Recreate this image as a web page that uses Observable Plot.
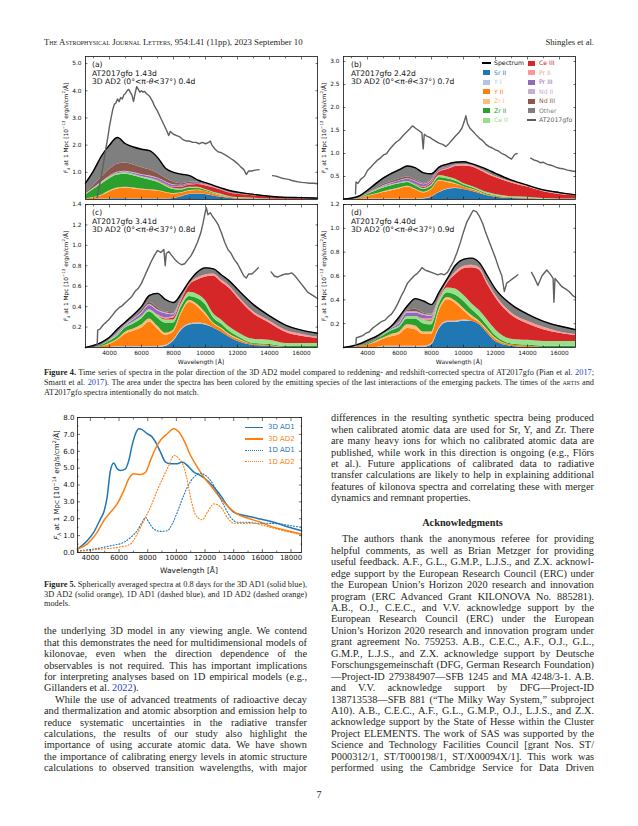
<!DOCTYPE html>
<html><head><meta charset="utf-8">
<script src="https://cdn.jsdelivr.net/npm/d3@7"></script>
<script src="https://cdn.jsdelivr.net/npm/@observablehq/plot@0.6"></script>
<style>
html,body{margin:0;padding:0;background:#fff;}
#page{position:relative;width:638px;height:826px;overflow:hidden;background:#fff;}
.abs{position:absolute;}
.serif{font-family:"Liberation Serif","Times New Roman",serif;color:#231f20;}
.sans{font-family:"DejaVu Sans",sans-serif;}
.line{position:absolute;white-space:nowrap;text-align:justify;text-align-last:justify;}
.last{text-align-last:left;}
.lk{color:#2a45c8;}
.ann{font-size:7.6px;line-height:8.6px;color:#111;white-space:nowrap;}
.rot{position:absolute;white-space:nowrap;transform:translate(-50%,-50%) rotate(-90deg);color:#111;}
.ctr{position:absolute;white-space:nowrap;transform:translate(-50%,-50%);color:#111;}
.leg{position:absolute;font-size:6.2px;line-height:6px;white-space:nowrap;}
sub,sup{font-size:70%;line-height:0;}
</style></head><body><div id="page"></div>
<script>
// ---------- Figure 4 data ----------
const wl = [2500,3000,3500,4000,4500,5000,5500,6000,6500,7000,7500,8000,8500,9000,9500,10000,10500,11000,11500,12000,13000,14000,15000,16000,17000];
const species = ["Sr II","Y I","Y II","Zr I","Zr II","Ce II","Ce III","Pr II","Pr III","Nd II","Nd III","Other"];
const speciesColors = ["#1f77b4","#aec7e8","#ff7f0e","#ffbb78","#2ca02c","#98df8a","#d62728","#ff9896","#9467bd","#c5b0d5","#8c564b","#7f7f7f"];

// panel (a)
const srII_a  = [0,0,0.01,0.02,0.03,0.03,0.02,0.02,0.02,0.02,0.02,0.04,0.1,0.18,0.2,0.18,0.13,0.08,0.04,0.02,0.01,0,0,0,0];
const yI_a    = [0,0.01,0.01,0.01,0.01,0.01,0.01,0.01,0.01,0.01,0.01,0.01,0.01,0.01,0.01,0.01,0,0,0,0,0,0,0,0,0];
const yII_a   = [0.02,0.05,0.12,0.25,0.35,0.38,0.36,0.33,0.3,0.28,0.22,0.15,0.12,0.12,0.12,0.1,0.07,0.05,0.03,0.02,0.01,0.01,0,0,0];
const zrI_a   = [0,0.01,0.02,0.03,0.03,0.03,0.03,0.03,0.03,0.02,0.02,0.02,0.02,0.02,0.02,0.01,0.01,0.01,0,0,0,0,0,0,0];
const zrII_a  = [0.15,0.3,0.4,0.45,0.48,0.48,0.45,0.4,0.36,0.3,0.22,0.15,0.1,0.08,0.06,0.04,0.03,0.02,0.02,0.01,0.01,0,0,0,0];
const ceII_a  = [0.02,0.03,0.04,0.05,0.05,0.05,0.05,0.05,0.05,0.05,0.04,0.04,0.04,0.04,0.04,0.03,0.03,0.03,0.02,0.02,0.02,0.01,0.01,0.01,0.01];
const ceIII_a = [0,0,0,0,0,0,0,0,0,0.01,0.02,0.04,0.06,0.08,0.1,0.14,0.16,0.15,0.13,0.12,0.09,0.07,0.05,0.04,0.03];
const prII_a  = [0,0,0,0,0,0,0,0,0.01,0.01,0.01,0.01,0.01,0.01,0.01,0.01,0.01,0.01,0.01,0.01,0.01,0,0,0,0];
const prIII_a = [0,0,0.01,0.02,0.03,0.04,0.05,0.06,0.07,0.07,0.07,0.06,0.05,0.04,0.03,0.02,0.01,0.01,0,0,0,0,0,0,0];
const ndII_a  = [0.01,0.01,0.02,0.02,0.02,0.02,0.02,0.02,0.02,0.02,0.02,0.02,0.01,0.01,0.01,0.01,0.01,0,0,0,0,0,0,0,0];
const ndIII_a = [0.05,0.1,0.18,0.25,0.3,0.3,0.28,0.26,0.22,0.18,0.14,0.1,0.06,0.04,0.03,0.02,0.02,0.01,0.01,0,0,0,0,0,0];
const other_a = [0.35,0.54,0.79,0.90,0.98,0.71,0.66,0.67,0.71,0.58,0.36,0.36,0.35,0.25,0.09,0.05,0.04,0.05,0.07,0.07,0.04,0.03,0.02,0.02,0.01];

// panel (b)
const srII_b  = [0,0,0,0,0,0,0,0,0,0,0.01,0.05,0.15,0.22,0.24,0.22,0.18,0.13,0.08,0.05,0.02,0.01,0,0,0];
const yI_b    = [0,0,0,0.01,0.01,0.01,0.01,0.01,0.01,0.01,0.01,0.01,0.01,0.01,0.01,0,0,0,0,0,0,0,0,0,0];
const yII_b   = [0,0,0.02,0.06,0.1,0.14,0.18,0.22,0.26,0.2,0.12,0.15,0.24,0.14,0.08,0.05,0.04,0.03,0.02,0.02,0.01,0.01,0,0,0];
const zrI_b   = [0,0,0,0.01,0.01,0.02,0.02,0.02,0.02,0.02,0.02,0.02,0.02,0.02,0.02,0.01,0.01,0.01,0,0,0,0,0,0,0];
const zrII_b  = [0,0,0.01,0.03,0.06,0.08,0.09,0.09,0.08,0.07,0.06,0.06,0.06,0.06,0.05,0.04,0.03,0.02,0.02,0.01,0.01,0.01,0,0,0];
const ceII_b  = [0,0,0,0.01,0.01,0.02,0.02,0.02,0.02,0.02,0.02,0.03,0.04,0.04,0.04,0.03,0.03,0.03,0.03,0.03,0.02,0.02,0.02,0.01,0.01];
const ceIII_b = [0,0,0,0,0,0,0,0,0,0.01,0.02,0.04,0.08,0.16,0.28,0.38,0.42,0.42,0.4,0.37,0.3,0.22,0.15,0.1,0.07];
const prII_b  = [0,0,0,0,0,0,0,0,0,0,0.01,0.01,0.01,0.02,0.02,0.03,0.03,0.03,0.03,0.02,0.02,0.02,0.01,0.01,0.01];
const prIII_b = [0,0,0,0,0.01,0.02,0.03,0.04,0.05,0.06,0.05,0.04,0.03,0.02,0.01,0,0,0,0,0,0,0,0,0,0];
const ndII_b  = [0,0,0,0,0.01,0.01,0.01,0.01,0.01,0.01,0.01,0.01,0,0,0,0,0,0,0,0,0,0,0,0,0];
const ndIII_b = [0,0,0,0.01,0.02,0.03,0.03,0.04,0.04,0.03,0.02,0.02,0.01,0.01,0,0,0,0,0,0,0,0,0,0,0];
const other_b = [0.01,0.03,0.05,0.07,0.11,0.14,0.18,0.20,0.24,0.26,0.23,0.12,0.06,0.07,0.06,0.06,0.04,0.05,0.07,0.07,0.04,0.02,0.03,0.03,0.01];

// panel (c)
const srII_c  = [0,0,0,0,0,0,0,0,0,0,0.01,0.06,0.17,0.22,0.23,0.22,0.19,0.15,0.1,0.06,0.02,0.01,0,0,0];
const yI_c    = [0,0,0,0,0.01,0.01,0.01,0.01,0.01,0.01,0.01,0.01,0.01,0.01,0.01,0.01,0,0,0,0,0,0,0,0,0];
const yII_c   = [0,0,0.01,0.03,0.06,0.12,0.15,0.18,0.24,0.17,0.1,0.08,0.15,0.21,0.16,0.09,0.04,0.03,0.02,0.02,0.01,0.01,0,0,0];
const zrI_c   = [0,0,0,0.01,0.01,0.02,0.02,0.03,0.03,0.03,0.02,0.02,0.02,0.02,0.02,0.02,0.01,0.01,0.01,0.01,0,0,0,0,0];
const zrII_c  = [0,0,0.01,0.02,0.03,0.04,0.05,0.06,0.07,0.08,0.1,0.07,0.05,0.04,0.06,0.08,0.05,0.04,0.03,0.02,0.01,0.01,0.01,0.01,0.01];
const ceII_c  = [0,0,0,0.01,0.01,0.01,0.02,0.02,0.02,0.02,0.03,0.03,0.03,0.04,0.04,0.04,0.04,0.04,0.04,0.04,0.04,0.04,0.03,0.03,0.03];
const ceIII_c = [0,0,0,0,0,0,0,0,0,0,0.01,0.02,0.03,0.07,0.14,0.23,0.37,0.37,0.38,0.34,0.25,0.17,0.11,0.07,0.05];
const prII_c  = [0,0,0,0,0,0,0,0,0,0.01,0.01,0.01,0.01,0.01,0.02,0.02,0.02,0.02,0.02,0.02,0.02,0.02,0.02,0.02,0.01];
const prIII_c = [0,0,0,0,0.01,0.01,0.02,0.03,0.04,0.04,0.04,0.02,0.01,0,0,0,0,0,0,0,0,0,0,0,0];
const ndII_c  = [0,0,0,0,0.01,0.01,0.01,0.01,0.01,0.01,0.01,0.01,0,0,0,0,0,0,0,0,0,0,0,0,0];
const ndIII_c = [0,0,0,0,0,0,0.01,0.02,0.02,0.02,0.01,0.01,0,0,0,0,0,0,0,0,0,0,0,0,0];
const other_c = [0,0.02,0.03,0.03,0.04,0.03,0.03,0.04,0.07,0.14,0.12,0.10,0.05,0.03,0.06,0.07,0.05,0.05,0.05,0.06,0.07,0.05,0.05,0.04,0.04];

// panel (d)
const srII_d  = [0,0,0,0,0,0,0,0,0,0,0,0.02,0.16,0.21,0.21,0.22,0.22,0.19,0.12,0.05,0.01,0,0,0,0];
const yI_d    = [0,0,0,0,0,0.01,0.01,0.01,0.01,0.01,0.01,0.01,0.01,0.01,0.01,0.01,0,0,0,0,0,0,0,0,0];
const yII_d   = [0,0,0.01,0.02,0.04,0.06,0.08,0.1,0.15,0.14,0.1,0.08,0.14,0.18,0.15,0.08,0.03,0.02,0.02,0.02,0.01,0.01,0,0,0];
const zrI_d   = [0,0,0,0,0.01,0.01,0.02,0.02,0.03,0.03,0.02,0.02,0.02,0.02,0.02,0.02,0.02,0.01,0.01,0.01,0,0,0,0,0];
const zrII_d  = [0,0,0,0.01,0.01,0.02,0.03,0.04,0.05,0.06,0.07,0.06,0.04,0.04,0.05,0.06,0.05,0.04,0.03,0.02,0.01,0.01,0.01,0.01,0.01];
const ceII_d  = [0,0,0,0,0,0.01,0.01,0.01,0.02,0.02,0.03,0.03,0.03,0.04,0.05,0.05,0.05,0.05,0.05,0.05,0.04,0.04,0.04,0.04,0.04];
const ceIII_d = [0,0,0,0,0,0,0,0,0,0,0,0.01,0.01,0.04,0.12,0.22,0.3,0.34,0.3,0.27,0.2,0.14,0.1,0.07,0.05];
const prII_d  = [0,0,0,0,0,0,0,0,0,0,0.01,0.01,0.01,0.01,0.02,0.02,0.02,0.02,0.02,0.02,0.02,0.02,0.02,0.01,0.01];
const prIII_d = [0,0,0,0,0,0,0.01,0.02,0.03,0.03,0.03,0.02,0,0,0,0,0,0,0,0,0,0,0,0,0];
const ndII_d  = [0,0,0,0,0,0,0,0.01,0.01,0.01,0.01,0.01,0,0,0,0,0,0,0,0,0,0,0,0,0];
const ndIII_d = [0,0,0,0,0,0,0,0.01,0.01,0.02,0.01,0.01,0,0,0,0,0,0,0,0,0,0,0,0,0];
const other_d = [0,0.01,0.02,0.03,0.03,0.02,0.02,0.04,0.04,0.09,0.10,0.08,0.05,0.03,0.06,0.06,0.06,0.04,0.05,0.05,0.07,0.06,0.05,0.05,0.04];

// observed AT2017gfo spectra (NaN = gap)
const obsA_wl = [3230,3300,3400,3500,3600,3750,3900,4000,4100,4200,4300,4400,4500,4600,4700,4800,4900,5000,5100,5200,5300,5400,5500,5600,5700,5800,5900,6000,6100,6200,6300,6400,6500,6600,6700,6800,6900,7000,7200,7400,7600,7700,7800,8000,8200,8400,8600,8800,9000,9200,9400,9600,9800,10000,10200,10300,10400,10600,10800,11000,11200,11400,11600,11800,12000,12200,12400,12550,12700,12900,13100,13350,13800,14200,14400,14600,14800,15000,15200,15400,15600,15800,16000,16200,16500,16800,17000];
const obsA_f  = [0.07,0.3,0.6,0.9,1.25,1.8,2.3,2.7,3.0,3.3,3.5,3.55,3.7,3.6,3.75,3.7,3.85,3.9,4.0,4.05,3.95,3.85,3.6,3.9,4.15,4.05,3.95,4.0,3.95,3.98,3.9,3.85,3.8,3.7,3.6,3.45,3.35,3.25,3.0,2.75,2.5,2.35,2.5,2.4,2.35,2.3,2.2,2.15,2.15,2.1,2.1,2.05,2.1,2.05,2.1,2.15,2.0,1.85,1.75,1.72,1.65,1.58,1.5,1.42,1.32,1.2,1.1,0.92,1.05,1.05,1.08,1.1,NaN,0.88,0.86,0.82,0.78,0.76,0.74,0.7,0.67,0.65,0.63,0.62,0.6,0.6,0.58];
const obsB_wl = [3250,3280,3400,3600,3800,4000,4200,4400,4600,4800,5000,5200,5400,5600,5800,6000,6200,6400,6600,6800,6900,7000,7200,7400,7480,7550,7700,7900,8100,8300,8500,8700,8900,9100,9300,9500,9700,9900,10050,10150,10250,10400,10600,10800,11000,11200,11400,11600,11800,12000,12200,12400,12600,12800,13000,13200,13350,13800,14200,14400,14600,14800,15000,15200,15400,15600,15800,16000,16200,16500,16800,17000];
const obsB_f  = [0.12,0.38,0.35,0.45,0.5,0.63,0.7,0.78,0.85,0.9,0.97,1.0,1.1,1.18,1.25,1.3,1.38,1.45,1.52,1.6,1.58,1.55,1.5,1.45,1.1,1.42,1.38,1.35,1.3,1.26,1.22,1.2,1.15,1.22,1.3,1.38,1.45,1.55,1.7,1.82,1.65,1.55,1.48,1.4,1.33,1.28,1.2,1.15,1.12,1.08,1.05,1.0,0.97,0.92,0.88,0.98,1.0,NaN,0.9,0.86,0.84,0.8,0.81,0.77,0.75,0.73,0.7,0.68,0.67,0.64,0.62,0.61];
const obsC_wl = [3230,3260,3400,3600,3800,4000,4200,4400,4600,4800,5000,5200,5400,5600,5800,6000,6200,6400,6600,6800,7000,7200,7400,7480,7550,7700,7900,8100,8300,8500,8700,8900,9100,9300,9500,9700,9850,9950,10050,10150,10300,10450,10600,10800,11000,11200,11400,11600,11800,12000,12200,12400,12550,12700,12900,13100,13300,13700,14100,14300,14500,14800,15000,15200,15400,15600,15800,16000,16200,16400,16600,16800,17000];
const obsC_f  = [0.02,0.17,0.18,0.22,0.25,0.28,0.32,0.36,0.39,0.41,0.44,0.47,0.5,0.55,0.58,0.63,0.7,0.77,0.84,0.9,0.95,0.93,0.96,0.8,0.92,0.94,0.9,0.86,0.83,0.81,0.82,0.86,0.9,0.96,1.03,1.12,1.22,1.3,1.37,1.3,1.32,1.28,1.25,1.2,1.12,1.03,0.96,0.92,0.86,0.82,0.76,0.7,0.68,0.72,0.72,0.75,0.78,NaN,0.74,0.7,0.69,0.71,0.72,0.72,0.73,0.7,0.66,0.62,0.58,0.54,0.52,0.5,0.48];
const obsD_wl = [3270,3300,3500,3700,3900,4100,4300,4500,4700,4900,5100,5300,5500,5700,5900,6100,6300,6500,6700,6900,7100,7300,7400,7600,7800,8000,8200,8400,8600,8800,9000,9200,9400,9600,9800,10000,10200,10400,10600,10800,11000,11200,11400,11600,11800,12000,12200,12400,12550,12700,12900,13100,13400,13800,14250,14450,14650,14900,15200,15400,15600,15650,15720,15900,16150,16400,16600,16800,17000];
const obsD_f  = [0.02,0.08,0.09,0.1,0.12,0.13,0.16,0.18,0.2,0.22,0.23,0.26,0.28,0.32,0.37,0.43,0.48,0.54,0.57,0.6,0.62,0.65,0.67,0.65,0.64,0.63,0.62,0.61,0.62,0.61,0.63,0.68,0.73,0.8,0.88,0.97,1.05,1.1,1.15,1.14,1.1,1.04,0.96,0.89,0.82,0.75,0.67,0.6,0.47,0.54,0.56,0.58,0.61,NaN,0.63,0.58,0.52,0.6,0.65,0.62,0.58,0.38,0.58,0.55,0.51,0.49,0.47,0.44,0.42];

const xTicks4 = [4000,6000,8000,10000,12000,14000,16000];
const xMinor4 = [3000,5000,7000,9000,11000,13000,15000];
const yTicksA = [1,2,3,4,5];
const yTicksB = [0.5,1,1.5,2,2.5,3];
const yTicksC = [0.2,0.4,0.6,0.8,1.0,1.2,1.4];
const yTicksD = [0.2,0.4,0.6,0.8,1.0,1.2];

// ---------- Figure 5 data ----------
const ad1_3d_wl = [3100,3770,4230,4700,4930,5165,5400,5630,5865,6100,6450,6680,6910,7150,7380,7610,7960,8310,8540,8890,9240,9590,10060,10410,10760,11220,11690,12160,12620,13090,13550,14020,14490,15180,15880,16810,17750,18730];
const ad1_3d_f  = [0.2,0.69,1.19,1.98,2.38,3.27,4.86,5.3,4.96,4.86,4.96,5.46,6.35,7.04,7.34,7.28,7.04,6.85,6.55,5.95,5.36,5.26,5.26,5.36,5.16,4.76,4.56,4.27,3.87,3.37,2.78,2.38,2.24,2.12,1.98,1.79,1.53,1.29];
const ad2_3d_wl = [3100,3770,4470,4930,5400,5865,6330,6680,7030,7500,7850,8190,8540,8890,9360,9825,10175,10525,10990,11460,11920,12390,12850,13320,13790,14250,14950,15880,16810,17750,18730];
const ad2_3d_f  = [0.2,0.5,1.19,1.88,2.38,2.88,3.67,4.37,4.66,4.62,4.76,5.46,6.15,6.65,7.04,7.34,7.14,6.65,5.75,5.06,4.46,3.97,3.47,2.98,2.58,2.28,2.04,1.79,1.49,1.29,1.09];
const ad1_1d_wl = [3100,4230,5400,6330,6800,7260,7610,7850,8080,8430,8890,9360,9710,10060,10410,10760,11220,11690,12040,12390,12850,13320,13790,14250,14950,15650,16350,17280,17980,18730];
const ad1_1d_f  = [0.1,0.2,0.4,0.6,0.89,1.29,1.79,2.08,1.79,1.39,1.25,1.29,1.69,2.38,3.17,3.87,4.46,4.7,4.56,4.27,3.57,2.78,2.08,1.79,1.79,1.73,1.73,1.69,1.59,1.49];
const ad2_1d_wl = [3100,4700,5865,6800,7260,7730,8190,8660,9130,9475,9825,10175,10525,10760,10990,11220,11570,11805,12160,12620,12850,13200,13550,14020,14720,15420,16120,17050,17980,18730];
const ad2_1d_f  = [0.06,0.2,0.3,0.5,1.09,1.88,2.68,3.67,4.56,5.16,5.75,5.56,5.06,4.27,3.27,2.48,2.02,1.94,2.38,2.88,2.84,2.58,2.08,1.73,1.73,1.73,1.59,1.39,1.19,1.05];
const xTicks5 = [4000,6000,8000,10000,12000,14000,16000,18000];
const xMinor5 = [5000,7000,9000,11000,13000,15000,17000];
const yTicks5 = [0,1,2,3,4,5,6,7,8];
const yMinor5 = [0.5,1.5,2.5,3.5,4.5,5.5,6.5,7.5];

// ---------- builders ----------
const page = document.getElementById("page");
function place(node, left, top) {
  const d = document.createElement("div");
  d.className = "abs"; d.style.left = left + "px"; d.style.top = top + "px";
  d.appendChild(node); page.appendChild(d);
}
function html(h) { const t = document.createElement("template"); t.innerHTML = h.trim(); page.appendChild(t.content); }

function stackRows(cols) {
  const rows = [];
  species.forEach((sp, j) => wl.forEach((w, i) => rows.push({wl: w, sp, v: cols[j][i]})));
  return rows;
}
function pairRows(xs, ys) { return xs.map((x, i) => ({wl: x, f: ys[i]})); }

const axStyle = {stroke: "#111", strokeWidth: 0.6};
function panel(cols, obsWl, obsF, yDomain, yTicks, showX) {
  const rows = stackRows(cols);
  const obs = pairRows(obsWl, obsF);
  return Plot.plot({
    width: 276, height: showX ? 169 : 151,
    marginLeft: 40, marginRight: 4, marginTop: 4, marginBottom: showX ? 22 : 4,
    style: {background: "transparent", fontFamily: "'DejaVu Sans', sans-serif", fontSize: "5.8px", color: "#111", overflow: "visible"},
    x: {domain: [2500, 17000]},
    y: {domain: yDomain},
    color: {domain: species, range: speciesColors},
    marks: [
      Plot.areaY(rows, {x: "wl", y: "v", z: "sp", fill: "sp", order: species, curve: "monotone-x"}),
      Plot.lineY(rows, Plot.groupX({y: "sum"}, {x: "wl", y: "v", stroke: "#000", strokeWidth: 1.4, curve: "monotone-x"})),
      Plot.line(obs, {x: "wl", y: "f", stroke: "#606060", strokeWidth: 1.4}),
      Plot.axisX(xTicks4, {anchor: "bottom", tickSize: -2.5, fill: "none", label: null, ...axStyle}),
      Plot.axisX(xTicks4, {anchor: "top", tickSize: -2.5, fill: "none", label: null, ...axStyle}),
      Plot.axisX(xMinor4, {anchor: "bottom", tickSize: -1.3, fill: "none", label: null, ...axStyle}),
      Plot.axisX(xMinor4, {anchor: "top", tickSize: -1.3, fill: "none", label: null, ...axStyle}),
      showX ? Plot.axisX(xTicks4, {anchor: "bottom", tickSize: 0, tickPadding: 3, label: null, tickFormat: "d"}) : null,
      Plot.axisY(yTicks, {anchor: "left", tickSize: -2.5, fill: "none", label: null, ...axStyle}),
      Plot.axisY(yTicks, {anchor: "right", tickSize: -2.5, fill: "none", label: null, ...axStyle}),
      Plot.axisY(yTicks, {anchor: "left", tickSize: 0, tickPadding: 4, label: null, tickFormat: d3.format(".1f")}),
      Plot.frame({stroke: "#111", strokeWidth: 0.8})
    ]
  });
}

const colsA = [srII_a,yI_a,yII_a,zrI_a,zrII_a,ceII_a,ceIII_a,prII_a,prIII_a,ndII_a,ndIII_a,other_a];
const colsB = [srII_b,yI_b,yII_b,zrI_b,zrII_b,ceII_b,ceIII_b,prII_b,prIII_b,ndII_b,ndIII_b,other_b];
const colsC = [srII_c,yI_c,yII_c,zrI_c,zrII_c,ceII_c,ceIII_c,prII_c,prIII_c,ndII_c,ndIII_c,other_c];
const colsD = [srII_d,yI_d,yII_d,zrI_d,zrII_d,ceII_d,ceIII_d,prII_d,prIII_d,ndII_d,ndIII_d,other_d];

place(panel(colsA, obsA_wl, obsA_f, [0, 5.26], yTicksA, false), 45, 52);
place(panel(colsB, obsB_wl, obsB_f, [0, 3.11], yTicksB, false), 303, 52);
place(panel(colsC, obsC_wl, obsC_f, [0, 1.4], yTicksC, true), 45, 200);
place(panel(colsD, obsD_wl, obsD_f, [0, 1.2], yTicksD, true), 303, 200);

// Figure 5
const fig5 = Plot.plot({
  width: 270, height: 153, marginLeft: 40, marginRight: 6, marginTop: 4, marginBottom: 14,
  style: {background: "transparent", fontFamily: "'DejaVu Sans', sans-serif", fontSize: "7px", color: "#111", overflow: "visible"},
  x: {domain: [3100, 18730]},
  y: {domain: [0, 8]},
  marks: [
    Plot.line(pairRows(ad1_3d_wl, ad1_3d_f), {x: "wl", y: "f", stroke: "#1f77b4", strokeWidth: 1.5, curve: "monotone-x"}),
    Plot.line(pairRows(ad2_3d_wl, ad2_3d_f), {x: "wl", y: "f", stroke: "#ff7f0e", strokeWidth: 1.5, curve: "monotone-x"}),
    Plot.line(pairRows(ad1_1d_wl, ad1_1d_f), {x: "wl", y: "f", stroke: "#1f77b4", strokeWidth: 1.1, strokeDasharray: "1.1,1.9", curve: "monotone-x"}),
    Plot.line(pairRows(ad2_1d_wl, ad2_1d_f), {x: "wl", y: "f", stroke: "#ff7f0e", strokeWidth: 1.1, strokeDasharray: "1.1,1.9", curve: "monotone-x"}),
    Plot.axisX(xTicks5, {anchor: "bottom", tickSize: -3, fill: "none", label: null, ...axStyle}),
    Plot.axisX(xTicks5, {anchor: "top", tickSize: -3, fill: "none", label: null, ...axStyle}),
    Plot.axisX(xMinor5, {anchor: "bottom", tickSize: -1.5, fill: "none", label: null, ...axStyle}),
    Plot.axisX(xMinor5, {anchor: "top", tickSize: -1.5, fill: "none", label: null, ...axStyle}),
    Plot.axisX(xTicks5, {anchor: "bottom", tickSize: 0, tickPadding: 3, label: null, tickFormat: "d"}),
    Plot.axisY(yTicks5, {anchor: "left", tickSize: -3, fill: "none", label: null, ...axStyle}),
    Plot.axisY(yTicks5, {anchor: "right", tickSize: -3, fill: "none", label: null, ...axStyle}),
    Plot.axisY(yMinor5, {anchor: "left", tickSize: -1.5, fill: "none", label: null, ...axStyle}),
    Plot.axisY(yMinor5, {anchor: "right", tickSize: -1.5, fill: "none", label: null, ...axStyle}),
    Plot.axisY(yTicks5, {anchor: "left", tickSize: 0, tickPadding: 3, label: null, tickFormat: d3.format(".1f")}),
    Plot.frame({stroke: "#111", strokeWidth: 0.8})
  ]
});
place(fig5, 37, 413);

// ---------- overlay texts for figures ----------
const ylab13 = '<i>F</i><sub><i>λ</i></sub> at 1 Mpc [10<sup>−13</sup> erg/s/cm<sup>2</sup>/Å]';
const ylab14 = '<i>F</i><sub><i>λ</i></sub> at 1 Mpc [10<sup>−14</sup> erg/s/cm<sup>2</sup>/Å]';
html(`<div class="rot sans" style="left:66px;top:127.5px;font-size:5.8px">${ylab13}</div>`);
html(`<div class="rot sans" style="left:324px;top:127.5px;font-size:5.8px">${ylab13}</div>`);
html(`<div class="rot sans" style="left:66px;top:275.5px;font-size:5.8px">${ylab13}</div>`);
html(`<div class="rot sans" style="left:324px;top:275.5px;font-size:5.8px">${ylab13}</div>`);
html(`<div class="ctr sans" style="left:201px;top:361px;font-size:6px">Wavelength [Å]</div>`);
html(`<div class="ctr sans" style="left:459px;top:361px;font-size:6px">Wavelength [Å]</div>`);
html(`<div class="rot sans" style="left:57px;top:484.5px;font-size:7px">${ylab14}</div>`);
html(`<div class="ctr sans" style="left:189px;top:570px;font-size:7.5px">Wavelength [Å]</div>`);

const ann = [
  ["(a)", "AT2017gfo 1.43d", "0.4d", 92, 61],
  ["(b)", "AT2017gfo 2.42d", "0.7d", 351, 61],
  ["(c)", "AT2017gfo 3.41d", "0.8d", 92, 209],
  ["(d)", "AT2017gfo 4.40d", "0.9d", 351, 209]
];
ann.forEach(([p, o, t, x, y]) => html(`<div class="abs sans ann" style="left:${x}px;top:${y}px">${p}<br>${o}<br>3D AD2 (0°&lt;π-<i>θ</i>&lt;37°) ${t}</div>`));

// legend of panel (b)
const legCol1 = [["Spectrum", "#000", "line"], ["Sr II", speciesColors[0]], ["Y I", speciesColors[1]], ["Y II", speciesColors[2]], ["Zr I", speciesColors[3]], ["Zr II", speciesColors[4]], ["Ce II", speciesColors[5]]];
const legCol2 = [["Ce III", speciesColors[6]], ["Pr II", speciesColors[7]], ["Pr III", speciesColors[8]], ["Nd II", speciesColors[9]], ["Nd III", speciesColors[10]], ["Other", speciesColors[11]], ["AT2017gfo", "#5c5c5c", "line"]];
const legRowsY = [63, 72.5, 82, 91.5, 101, 110.5, 120];
function legItem(label, col, kind, xp, xt, y) {
  const sw = kind === "line"
    ? `<div class="abs" style="left:${xp}px;top:${y - 0.7}px;width:9px;height:1.4px;background:${col}"></div>`
    : `<div class="abs" style="left:${xp + 1}px;top:${y - 2.5}px;width:7px;height:5px;background:${col}"></div>`;
  const tc = label === "Spectrum" ? "#111" : col;
  html(sw + `<div class="leg sans" style="left:${xt}px;top:${y - 3}px;color:${tc}">${label}</div>`);
}
legCol1.forEach(([l, c, k], i) => legItem(l, c, k, 482, 494, legRowsY[i]));
legCol2.forEach(([l, c, k], i) => legItem(l, c, k, 527, 539, legRowsY[i]));

// legend of figure 5
const leg5 = [["3D AD1", "#1f77b4", "solid"], ["3D AD2", "#ff7f0e", "solid"], ["1D AD1", "#1f77b4", "dot"], ["1D AD2", "#ff7f0e", "dot"]];
const leg5Y = [427.7, 439.2, 450.7, 462];
leg5.forEach(([l, c, k], i) => {
  const y = leg5Y[i];
  const ln = k === "solid"
    ? `<div class="abs" style="left:245px;top:${y - 0.8}px;width:18px;height:1.6px;background:${c}"></div>`
    : `<div class="abs" style="left:245px;top:${y - 0.6}px;width:18px;height:0;border-top:1.2px dotted ${c}"></div>`;
  html(ln + `<div class="abs sans" style="left:268px;top:${y - 4.5}px;font-size:7px;line-height:9px;color:${c};white-space:nowrap">${l}</div>`);
});

// ---------- page text ----------
function addLines(x, w, y0, lh, fs, lines) {
  lines.forEach((ln, k) => {
    const o = typeof ln === "string" ? {t: ln} : ln;
    const ind = o.indent || 0;
    const d = document.createElement("div");
    d.className = "line serif" + (o.last ? " last" : "");
    d.style.left = (x + ind) + "px";
    d.style.width = (w - ind) + "px";
    d.style.top = (y0 + k * lh - lh / 2) + "px";
    d.style.fontSize = fs + "px";
    d.style.lineHeight = lh + "px";
    d.innerHTML = o.t;
    page.appendChild(d);
  });
}
html(`<div class="abs serif" style="left:44px;top:36.5px;font-size:8.8px;line-height:10px;white-space:nowrap"><span style="font-variant:small-caps">The Astrophysical Journal Letters</span>, 954:L41 (11pp), 2023 September 10</div>`);
html(`<div class="abs serif" style="right:44px;top:36.5px;font-size:8.6px;line-height:10px;white-space:nowrap">Shingles et al.</div>`);

addLines(44, 550, 373, 9.8, 8.3, [
  '<b>Figure 4.</b> Time series of spectra in the polar direction of the 3D AD2 model compared to reddening- and redshift-corrected spectra of AT2017gfo (Pian et al. <span class="lk">2017</span>;',
  'Smartt et al. <span class="lk">2017</span>). The area under the spectra has been colored by the emitting species of the last interactions of the emerging packets. The times of the <span style="font-variant:small-caps">artis</span> and',
  {t: 'AT2017gfo spectra intentionally do not match.', last: true}
]);
addLines(44, 263, 585, 9.4, 8.3, [
  '<b>Figure 5.</b> Spherically averaged spectra at 0.8 days for the 3D AD1 (solid blue),',
  '3D AD2 (solid orange), 1D AD1 (dashed blue), and 1D AD2 (dashed orange)',
  {t: 'models.', last: true}
]);
addLines(44, 263, 631, 11.42, 10.3, [
  'the underlying 3D model in any viewing angle. We contend',
  'that this demonstrates the need for multidimensional models of',
  'kilonovae, even when the direction dependence of the',
  'observables is not required. This has important implications',
  'for interpreting analyses based on 1D empirical models (e.g.,',
  {t: 'Gillanders et al. <span class="lk">2022</span>).', last: true},
  {t: 'While the use of advanced treatments of radioactive decay', indent: 11},
  'and thermalization and atomic absorption and emission help to',
  'reduce systematic uncertainties in the radiative transfer',
  'calculations, the results of our study also highlight the',
  'importance of using accurate atomic data. We have shown',
  'the importance of calibrating energy levels in atomic structure',
  'calculations to observed transition wavelengths, with major'
]);
addLines(331, 263, 418, 11.42, 10.3, [
  'differences in the resulting synthetic spectra being produced',
  'when calibrated atomic data are used for Sr, Y, and Zr. There',
  'are many heavy ions for which no calibrated atomic data are',
  'published, while work in this direction is ongoing (e.g., Flörs',
  'et al.). Future applications of calibrated data to radiative',
  'transfer calculations are likely to help in explaining additional',
  'features of kilonova spectra and correlating these with merger',
  {t: 'dynamics and remnant properties.', last: true}
]);
html(`<div class="ctr serif" style="left:462.5px;top:522px;font-size:10.3px;font-weight:bold;color:#231f20">Acknowledgments</div>`);
addLines(331, 263, 539, 11.45, 10.3, [
  {t: 'The authors thank the anonymous referee for providing', indent: 11},
  'helpful comments, as well as Brian Metzger for providing',
  'useful feedback. A.F., G.L., G.M.P., L.J.S., and Z.X. acknowl-',
  'edge support by the European Research Council (ERC) under',
  'the European Union’s Horizon 2020 research and innovation',
  'program (ERC Advanced Grant KILONOVA No. 885281).',
  'A.B., O.J., C.E.C., and V.V. acknowledge support by the',
  'European Research Council (ERC) under the European',
  'Union’s Horizon 2020 research and innovation program under',
  'grant agreement No. 759253. A.B., C.E.C., A.F., O.J., G.L.,',
  'G.M.P., L.J.S., and Z.X. acknowledge support by Deutsche',
  'Forschungsgemeinschaft (DFG, German Research Foundation)',
  '—Project-ID 279384907—SFB 1245 and MA 4248/3-1. A.B.',
  'and V.V. acknowledge support by DFG—Project-ID',
  '138713538—SFB 881 (“The Milky Way System,” subproject',
  'A10). A.B., C.E.C., A.F., G.L., G.M.P., O.J., L.J.S., and Z.X.',
  'acknowledge support by the State of Hesse within the Cluster',
  'Project ELEMENTS. The work of SAS was supported by the',
  'Science and Technology Facilities Council [grant Nos. ST/',
  'P000312/1, ST/T000198/1, ST/X00094X/1]. This work was',
  'performed using the Cambridge Service for Data Driven'
]);
html(`<div class="ctr serif" style="left:319px;top:794px;font-size:10px;color:#231f20">7</div>`);
</script></body></html>
